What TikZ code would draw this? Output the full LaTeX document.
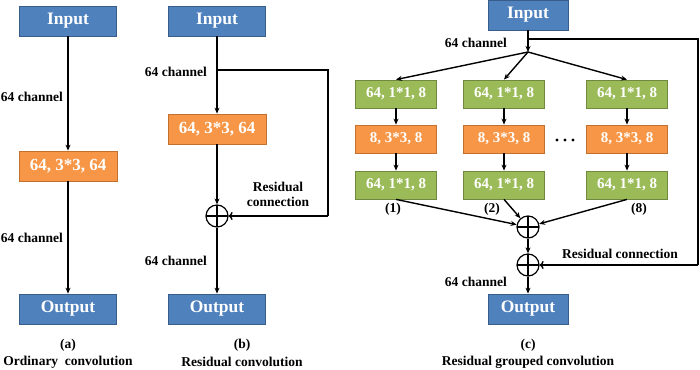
\documentclass[tikz,border=0pt]{standalone}
\usepackage{fontspec}
\setmainfont{Liberation Serif}
\usetikzlibrary{arrows.meta}
\definecolor{bfill}{HTML}{4F81BD}
\definecolor{bdraw}{HTML}{385D8A}
\definecolor{ofill}{HTML}{F79646}
\definecolor{odraw}{HTML}{C0712F}
\definecolor{gfill}{HTML}{9BBB59}
\definecolor{gdraw}{HTML}{71893F}
\tikzset{
  bigbox/.style={draw=bdraw, fill=bfill, line width=0.8pt, text=white, inner sep=0pt,
     minimum width=97pt, minimum height=30pt, font=\fontsize{17.5}{18}\selectfont\bfseries},
  convbox/.style={draw=odraw, fill=ofill, line width=0.8pt, text=white, inner sep=0pt,
     minimum width=98pt, minimum height=30pt, font=\fontsize{17}{18}\selectfont\bfseries},
  gbox/.style={draw=gdraw, fill=gfill, line width=0.8pt, text=white, inner sep=0pt,
     minimum width=81pt, minimum height=28pt, font=\fontsize{15}{16}\selectfont\bfseries},
  sbox/.style={draw=odraw, fill=ofill, line width=0.8pt, text=white, inner sep=0pt,
     minimum width=81pt, minimum height=28pt, font=\fontsize{15}{16}\selectfont\bfseries},
  lbl/.style={inner sep=0pt, font=\fontsize{13.5}{15}\selectfont\bfseries},
  sumnode/.style={circle, draw, line width=1.2pt, minimum size=22pt, inner sep=0pt,
     path picture={\draw[line width=1.2pt] (path picture bounding box.north) -- (path picture bounding box.south)
       (path picture bounding box.west) -- (path picture bounding box.east);}},
  conn/.style={line width=1.4pt, -{Stealth[length=6pt,width=5pt]}},
  resid/.style={line width=1.4pt, -{To[length=4pt,width=8pt]}},
  plain/.style={line width=1.4pt},
}
\begin{document}
\begin{tikzpicture}[x=1pt,y=-1pt]
\useasboundingbox (0,0) rectangle (700,369);
% (a)
\node[bigbox] (ain) at (68,21) {Input};
\node[convbox] (aconv) at (68,166) {64, 3*3, 64};
\node[bigbox] (aout) at (68,309) {Output};
\draw[conn] (ain) -- (aconv);
\draw[conn] (aconv) -- (aout);
\node[lbl, anchor=east] (al1) at (63,97) {64 channel};
\node[lbl, anchor=east] (al2) at (63,238) {64 channel};
\node[lbl] (acap1) at (68,345) {(a)};
\node[lbl] (acap2) at (68,362) {Ordinary\ \ convolution};
% (b)
\node[bigbox] (bin) at (217,21) {Input};
\node[convbox] (bconv) at (217,129) {64, 3*3, 64};
\node[sumnode] (bsum) at (217,216) {};
\node[bigbox] (bout) at (217,309) {Output};
\coordinate (bsplit) at (217,70);
\coordinate (bc1) at (328,70);
\coordinate (bc2) at (328,216);
\draw[conn] (bin) -- (bconv);
\draw[conn] (bconv) -- (bsum);
\draw[conn] (bsum) -- (bout);
\draw[plain] (bsplit) -- (bc1) -- (bc2);
\draw[resid] (bc2) -- (bsum);
\node[lbl, anchor=east] (bl1) at (207,72) {64 channel};
\node[lbl, anchor=east] (bl2) at (207,261) {64 channel};
\node[lbl, align=center] (bres) at (278,194) {Residual\\connection};
\node[lbl] (bcap1) at (242,345) {(b)};
\node[lbl] (bcap2) at (242,362) {Residual convolution};
% (c)
\node[bigbox, minimum width=80pt] (cin) at (528,15) {Input};
\coordinate (csplit) at (528,52);
\coordinate (cr0) at (528,39);
\coordinate (cr1) at (698,39);
\coordinate (cr2) at (698,265);
\node[gbox] (g11) at (396,94) {64, 1*1, 8};
\node[gbox] (g12) at (504,94) {64, 1*1, 8};
\node[gbox] (g13) at (627,94) {64, 1*1, 8};
\node[sbox] (s21) at (396,139) {8, 3*3, 8};
\node[sbox] (s22) at (504,139) {8, 3*3, 8};
\node[sbox] (s23) at (627,139) {8, 3*3, 8};
\node[gbox] (g31) at (396,185) {64, 1*1, 8};
\node[gbox] (g32) at (504,185) {64, 1*1, 8};
\node[gbox] (g33) at (627,185) {64, 1*1, 8};
\node[sumnode] (cs1) at (528,227) {};
\node[sumnode] (cs2) at (528,265) {};
\node[bigbox, minimum width=80pt] (cout) at (528,309) {Output};
\draw[conn] (cin) -- (csplit);
\draw[conn] (csplit) -- (g11.north);
\draw[conn] (csplit) -- (g12.north);
\draw[conn] (csplit) -- (g13.north);
\draw[conn] (g11) -- (s21);
\draw[conn] (g12) -- (s22);
\draw[conn] (g13) -- (s23);
\draw[conn] (s21) -- (g31);
\draw[conn] (s22) -- (g32);
\draw[conn] (s23) -- (g33);
\draw[conn] (g31.south) -- (cs1);
\draw[conn] (g32.south) -- (cs1);
\draw[conn] (g33.south) -- (cs1);
\draw[conn] (cs1) -- (cs2);
\draw[conn] (cs2) -- (cout);
\draw[plain] (cr0) -- (cr1) -- (cr2);
\draw[resid] (cr2) -- (cs2);
\fill (557,140) circle (1.6) (565,140) circle (1.6) (573,140) circle (1.6);
\node[lbl, anchor=east] (cl1) at (507,43) {64 channel};
\node[lbl, anchor=east] (cl2) at (507,282) {64 channel};
\node[lbl] (cres) at (620,254) {Residual connection};
\node[lbl] (n1) at (393,209) {(1)};
\node[lbl] (n2) at (492,209) {(2)};
\node[lbl] (n8) at (639,209) {(8)};
\node[lbl] (ccap1) at (528,345) {(c)};
\node[lbl] (ccap2) at (528,362) {Residual grouped convolution};
\end{tikzpicture}
\end{document}
